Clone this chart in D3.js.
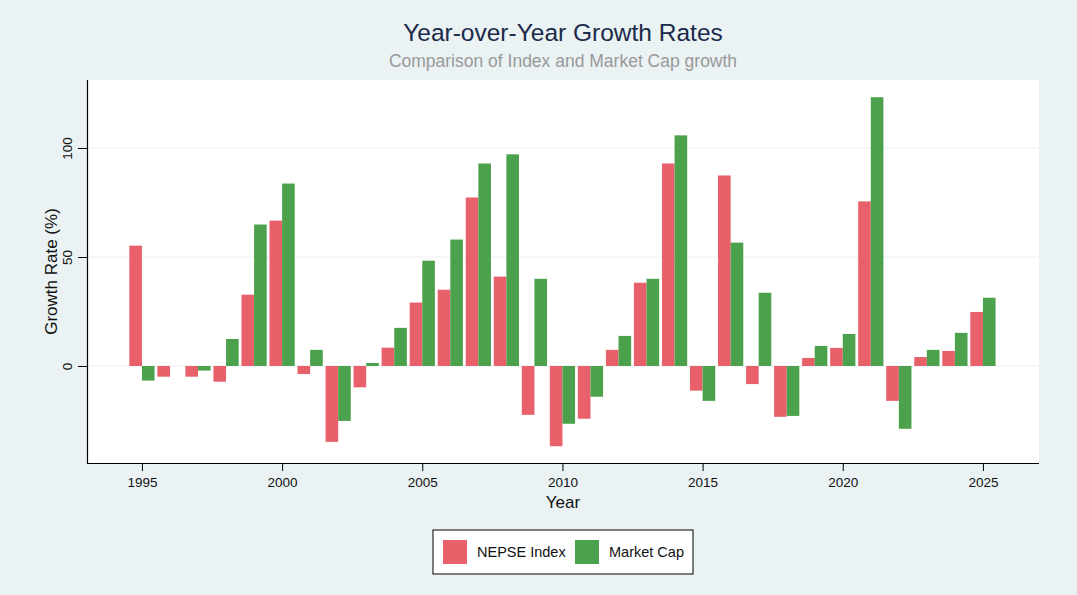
<!DOCTYPE html>
<html>
<head>
<meta charset="utf-8">
<script src="https://cdn.jsdelivr.net/npm/d3@7"></script>
<style>
  body { margin: 0; background: #eaf2f3; }
  svg { display: block; font-family: "Liberation Sans", Arial, sans-serif; }
</style>
</head>
<body>
<script>
var width = 1077, height = 595;
var margin = { top: 80, right: 38, bottom: 132, left: 87 };

var color_bg = "#eaf2f3";
var color_index = "#e8606a";
var color_mcap = "#4ca24c";

// data
var years = [1995, 1996, 1997, 1998, 1999, 2000, 2001, 2002, 2003, 2004,
             2005, 2006, 2007, 2008, 2009, 2010, 2011, 2012, 2013, 2014,
             2015, 2016, 2017, 2018, 2019, 2020, 2021, 2022, 2023, 2024, 2025];
var nepse = [55.2, -4.9, -4.9, -7.2, 32.7, 66.7, -3.7, -34.8, -9.8, 8.4,
             29.1, 35.0, 77.3, 41.0, -22.4, -36.8, -24.2, 7.4, 38.2, 92.9,
             -11.3, 87.4, -8.3, -23.3, 3.7, 8.3, 75.5, -16.0, 4.1, 6.9, 24.8];
var mcap = [-6.7, null, -2.1, 12.4, 64.9, 83.7, 7.4, -25.2, 1.4, 17.5,
            48.3, 58.0, 92.9, 97.1, 40.0, -26.5, -14.1, 13.8, 40.0, 105.8,
            -16.0, 56.6, 33.6, -22.9, 9.2, 14.7, 123.3, -28.8, 7.4, 15.2, 31.3];
var xticks = [1995, 2000, 2005, 2010, 2015, 2020, 2025];
var yticks = [0, 50, 100];
var series = [
  { name: "NEPSE Index", values: nepse, color: color_index, off: -1 },
  { name: "Market Cap", values: mcap, color: color_mcap, off: 0 }
];

var svg = d3.select("body").append("svg")
  .attr("width", width).attr("height", height);
svg.append("rect").attr("width", width).attr("height", height).attr("fill", color_bg);

var x0 = margin.left, x1 = width - margin.right;
var y0 = margin.top, y1 = height - margin.bottom;

var x = d3.scaleLinear().domain([1993.04, 2027]).range([x0, x1]);
var y = d3.scaleLinear().domain([-44.5, 131.2]).range([y1, y0]);
var bw = 0.45;

svg.append("rect").attr("x", x0).attr("y", y0)
  .attr("width", x1 - x0).attr("height", y1 - y0).attr("fill", "white");

// gridlines
svg.append("g").selectAll("line").data(yticks).enter().append("line")
  .attr("x1", x0).attr("x2", x1)
  .attr("y1", function(d) { return y(d); }).attr("y2", function(d) { return y(d); })
  .attr("stroke", "#eaeef0").attr("stroke-width", 1);

// bars
series.forEach(function(s) {
  var rows = years.map(function(yr, i) { return { year: yr, v: s.values[i] }; })
    .filter(function(d) { return d.v != null; });
  svg.append("g").selectAll("rect").data(rows).enter().append("rect")
    .attr("x", function(d) { return x(d.year + s.off * bw); })
    .attr("width", x(bw) - x(0))
    .attr("y", function(d) { return y(Math.max(0, d.v)); })
    .attr("height", function(d) { return Math.abs(y(d.v) - y(0)); })
    .attr("fill", s.color);
});

// axes
var xAxis = svg.append("g").attr("transform", "translate(0," + y1 + ")")
  .call(d3.axisBottom(x).tickValues(xticks).tickFormat(d3.format("d")).tickSize(8).tickPadding(6));
var yAxis = svg.append("g").attr("transform", "translate(" + x0 + ",0)")
  .call(d3.axisLeft(y).tickValues(yticks).tickSize(9).tickPadding(4));
[xAxis, yAxis].forEach(function(a) {
  a.select(".domain").attr("stroke", "#000").attr("stroke-width", 1.2)
    .attr("d", a === xAxis ? "M" + x0 + ",0.5H" + x1 : "M0.5," + y0 + "V" + y1);
  a.selectAll(".tick line").attr("stroke", "#000").attr("stroke-width", 1);
  a.selectAll("text").attr("font-size", 13.5).attr("fill", "#111")
    .attr("font-family", "Liberation Sans, Arial, sans-serif");
});
yAxis.selectAll(".tick text")
  .attr("text-anchor", "middle").attr("x", null).attr("dy", null)
  .attr("transform", "translate(-20,0) rotate(-90)").attr("dy", "0.35em");

// titles
var cx = (x0 + x1) / 2;
svg.append("text").attr("x", cx).attr("y", 41).attr("text-anchor", "middle")
  .attr("font-size", 24.5).attr("fill", "#1b2a4a").text("Year-over-Year Growth Rates");
svg.append("text").attr("x", cx).attr("y", 67).attr("text-anchor", "middle")
  .attr("font-size", 17.5).attr("fill", "#999").text("Comparison of Index and Market Cap growth");
svg.append("text").attr("x", cx).attr("y", 508).attr("text-anchor", "middle")
  .attr("font-size", 17).attr("fill", "#111").text("Year");
svg.append("text").attr("transform", "translate(57," + ((y0 + y1) / 2) + ") rotate(-90)")
  .attr("text-anchor", "middle").attr("font-size", 17).attr("fill", "#111").text("Growth Rate (%)");

// legend
var lg = svg.append("g").attr("transform", "translate(433,530)");
lg.append("rect").attr("width", 260).attr("height", 44)
  .attr("fill", "white").attr("stroke", "#000").attr("stroke-width", 1);
var items = lg.selectAll("g").data(series).enter().append("g")
  .attr("transform", function(d, i) { return "translate(" + (10 + i * 132) + ",10)"; });
items.append("rect").attr("width", 24).attr("height", 24)
  .attr("fill", function(d) { return d.color; });
items.append("text").attr("x", 34).attr("y", 12).attr("dy", "0.35em")
  .attr("font-size", 14.5).attr("fill", "#111").text(function(d) { return d.name; });
</script>
</body>
</html>
